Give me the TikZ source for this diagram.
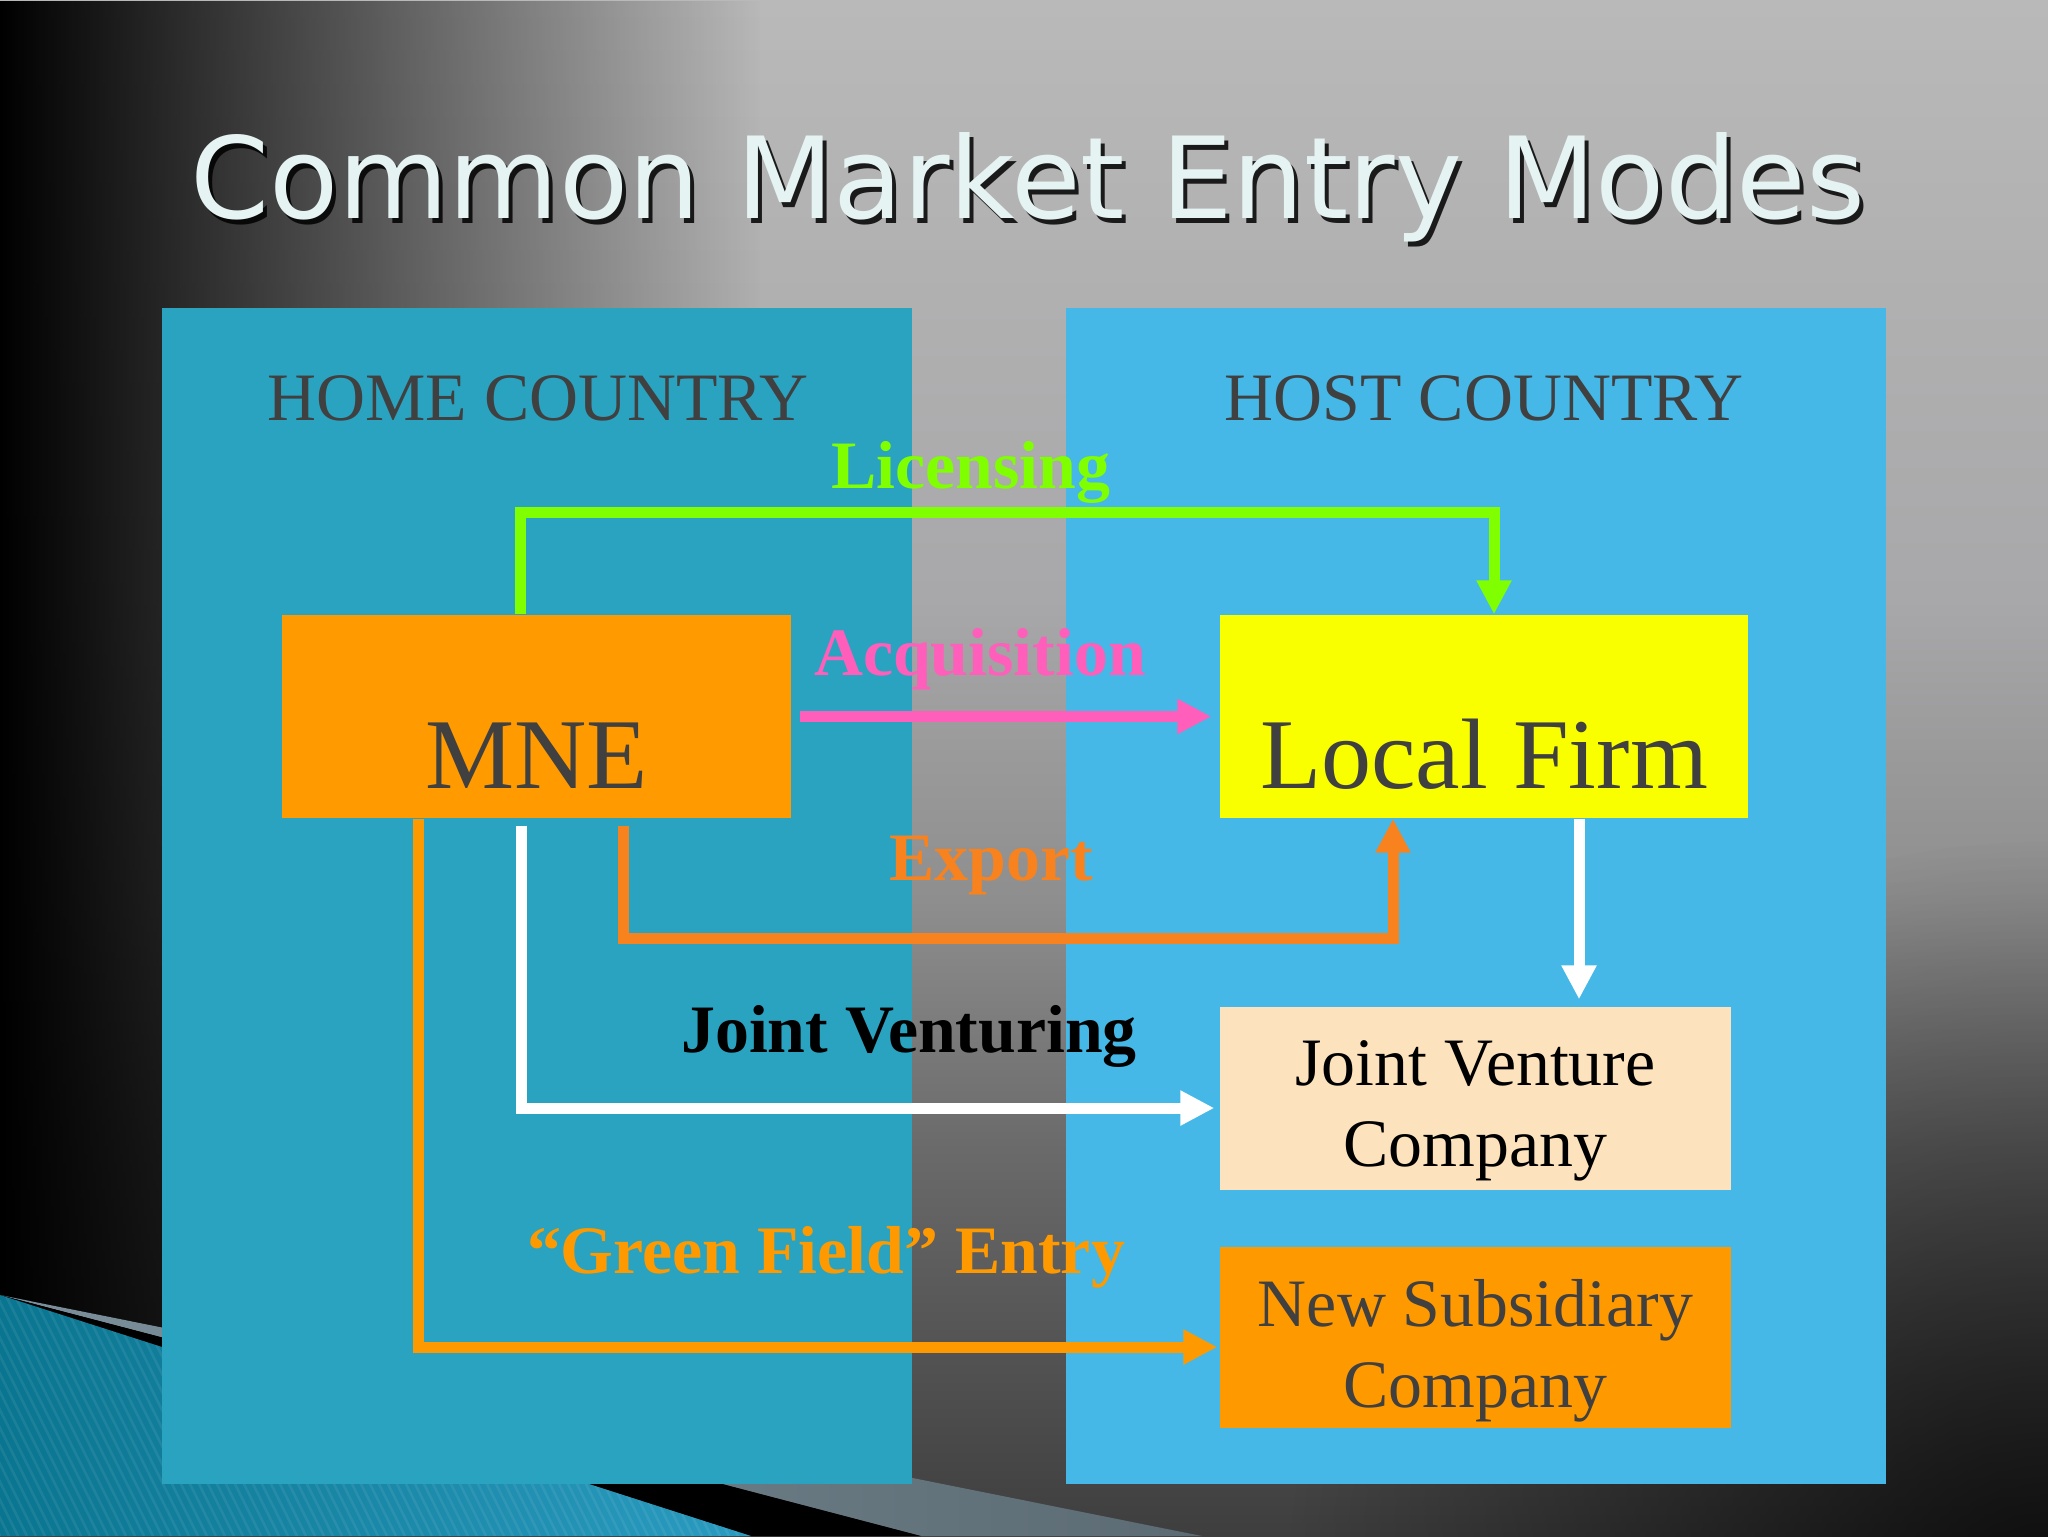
\documentclass[tikz,border=0pt]{standalone}
\usepackage{fontspec}
\setmainfont{Liberation Serif}
\newfontfamily\titlefont{DejaVu Sans}
\usepackage{tikz}
\usetikzlibrary{arrows.meta,fadings}
\definecolor{bgtop}{HTML}{B9B9B9}
\definecolor{bghi}{HTML}{A8A7A9}
\definecolor{bgmid}{HTML}{8E8E8E}
\definecolor{bglow}{HTML}{6A6A6A}
\definecolor{bgbot}{HTML}{3E3E3E}
\definecolor{tealdk}{HTML}{0A7590}
\definecolor{teallt}{HTML}{5CC2E2}
\definecolor{tealmd}{HTML}{2A9BC0}
\definecolor{slatea}{HTML}{7B909C}
\definecolor{slateb}{HTML}{5C6B73}
\definecolor{homebg}{HTML}{2AA3C1}
\definecolor{hostbg}{HTML}{45B8E7}
\definecolor{mneor}{HTML}{FF9A00}
\definecolor{firmyel}{HTML}{FAFF00}
\definecolor{jvbg}{HTML}{FDE3BD}
\definecolor{txtgray}{HTML}{404040}
\definecolor{licgreen}{HTML}{7FFF00}
\definecolor{acqpink}{HTML}{FF5EBA}
\definecolor{exporg}{HTML}{F8821E}
\definecolor{gforg}{HTML}{FF9900}
\definecolor{titlefg}{HTML}{E6F3F3}
\pgfdeclareverticalshading{bgvert}{100bp}{color(0bp)=(bgbot); color(25bp)=(bgbot); color(37.6bp)=(bglow); color(45.7bp)=(bgmid); color(55.5bp)=(bghi); color(75bp)=(bgtop); color(100bp)=(bgtop)}
\tikzfading[name=cornerfade, inner color=transparent!0, outer color=transparent!100]
\tikzset{
  firmbox/.style={inner sep=0pt,text depth=3mm,text height=17.3mm,text=txtgray,font=\fontsize{28.5pt}{30pt}\selectfont},
  cobox/.style={inner sep=0pt,align=center,minimum width=51.1mm,font=\fontsize{19.3pt}{23.05pt}\selectfont},
  hdr/.style={anchor=base,text=txtgray,font=\fontsize{19.3pt}{20pt}\selectfont},
  lbl/.style={anchor=base,font=\bfseries\fontsize{19.3pt}{20pt}\selectfont},
  ttl/.style={anchor=base,font=\titlefont\fontsize{32.2pt}{34pt}\selectfont},
  ar/.style={-{Triangle[length=3.4mm,width=3.3mm]},line width=1.1mm}
}

\begin{document}
\begin{tikzpicture}[x=0.1mm,y=-0.1mm]
\useasboundingbox (0,0) rectangle (2048,1536);
% backdrop
\shade[shading=bgvert] (0,0) rectangle (2048,1536);
\fill[black,path fading=east] (0,0) rectangle (760,1536);
\fill[black,path fading=cornerfade,fill opacity=0.8] (2048,1600) circle (760);
\shade[left color=slatea,right color=slateb] (0,1295) -- (921,1536) -- (1202,1536) -- cycle;
\fill[black] (0,1295) -- (751,1536) -- (921,1536) -- cycle;
\shade[left color=tealdk,middle color=teallt,right color=tealmd] (0,1295) -- (751,1536) -- (0,1536) -- cycle;
\begin{scope}
  \clip (0,1295) -- (751,1536) -- (0,1536) -- cycle;
  \foreach \s in {0,9,...,900}
    \draw[white,opacity=0.07,line width=0.25mm] (\s,1536) -- ++(-150,-300);
\end{scope}
% the two countries
\fill[homebg] (162,308) rectangle (912,1484);
\fill[hostbg] (1066,308) rectangle (1886,1484);
\node[hdr] (home) at (538,420) {HOME COUNTRY};
\node[hdr] (host) at (1484,420) {HOST COUNTRY};
% title
\node[ttl,text=black,opacity=0.85] (titleshade) at (1032,223) {Common Market Entry Modes};
\node[ttl,text=titlefg] (title) at (1028,218) {Common Market Entry Modes};
% firms
\node[firmbox,fill=mneor,minimum width=50.9mm] (mne) at (536.5,716.5) {MNE};
\node[firmbox,fill=firmyel,minimum width=52.8mm] (lfirm) at (1484,716.5) {Local Firm};
\node[cobox,fill=jvbg,text height=15.9mm,text depth=2.4mm] (jv) at (1475.5,1098.5) {Joint Venture\\Company};
\node[cobox,fill=gforg,text=txtgray,text height=16mm,text depth=2.1mm] (newsub) at (1475.5,1337.5) {New Subsidiary\\Company};
% entry modes
\coordinate (licbend) at (520,512);
\coordinate (expbend) at (623,938);
\coordinate (jvbend) at (521,1108);
\coordinate (gfbend) at (418,1347);
\draw[ar,licgreen] (licbend |- mne.north) -- (licbend) -| ([xshift=1mm]lfirm.north);
\draw[ar,acqpink,shorten <=0.8mm,shorten >=0.8mm] (mne) -- (lfirm);
\draw[ar,exporg,shorten <=0.7mm] (expbend |- mne.south) -- (expbend) -| ([xshift=-9.1mm]lfirm.south);
\draw[ar,white,shorten <=0.7mm,shorten >=0.5mm] (jvbend |- mne.south) -- (jvbend) -- (jvbend -| jv.west);
\draw[ar,white,shorten >=0.7mm] ([xshift=9.5mm]lfirm.south) -- ([xshift=9.5mm]lfirm.south |- jv.north);
\draw[ar,gforg,shorten >=0.2mm] (gfbend |- mne.south) -- (gfbend) -- (gfbend -| newsub.west);
\node[lbl,text=licgreen] (liclbl) at (971,488) {Licensing};
\node[lbl,text=acqpink] (acqlbl) at (980,675) {Acquisition};
\node[lbl,text=exporg] (explbl) at (991,880) {Export};
\node[lbl,text=black] (jvlbl) at (909,1052) {Joint Venturing};
\node[lbl,text=gforg] (gflbl) at (826,1273) {``Green Field'' Entry};
\end{tikzpicture}
\end{document}
